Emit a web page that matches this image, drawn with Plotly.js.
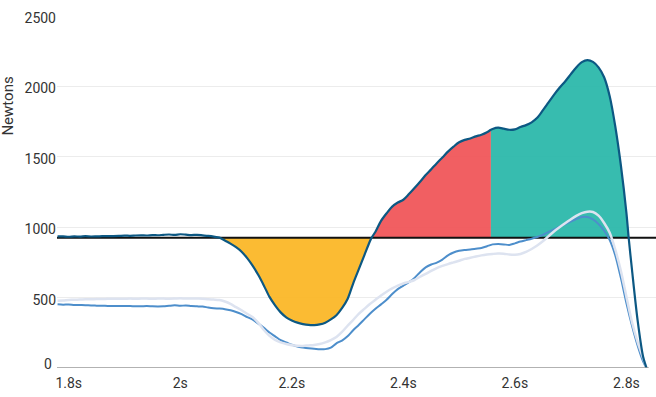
<!DOCTYPE html>
<html>
<head>
<meta charset="utf-8">
<script src="https://cdn.plot.ly/plotly-3.0.1.min.js"></script>
<style>
  html, body { margin: 0; padding: 0; background: #fff; }
  #chart { width: 656px; height: 397px; }
</style>
</head>
<body>
<div id="chart"></div>
<script>
// ---- Data ----
// time grid (s) shared by the two lighter lines
const timeS = [1.78,1.79,1.80,1.81,1.82,1.83,1.84,1.85,1.86,1.87,1.88,1.89,1.90,1.91,1.92,1.93,1.94,1.95,1.96,1.97,1.98,1.99,
  2.00,2.01,2.02,2.03,2.04,2.05,2.06,2.07,2.08,2.09,2.10,2.11,2.12,2.13,2.14,2.15,2.16,2.17,2.18,2.19,
  2.20,2.21,2.22,2.23,2.24,2.25,2.26,2.27,2.28,2.29,2.30,2.31,2.32,2.33,2.34,2.35,2.36,2.37,2.38,2.39,
  2.40,2.41,2.42,2.43,2.44,2.45,2.46,2.47,2.48,2.49,2.50,2.51,2.52,2.53,2.54,2.55,2.56,2.57,2.58,2.59,
  2.60,2.61,2.62,2.63,2.64,2.65,2.66,2.67,2.68,2.69,2.70,2.71,2.72,2.73,2.74,2.75,2.76,2.77,2.78,2.79,
  2.80,2.81,2.82,2.83,2.836];

// medium-blue line (Newtons)
const lineBlue = [452,450,451,448,447,446,444,443,442,441,440,440,441,440,439,439,440,438,437,438,442,445,
  442,444,440,438,436,430,425,422,418,410,398,382,362,343,315,285,252,225,198,182,
  165,152,145,140,137,133,134,145,175,195,225,268,305,345,385,420,452,485,525,560,
  585,610,640,680,715,735,748,770,800,820,832,838,842,847,852,865,878,880,878,874,
  885,898,908,918,930,945,965,985,1003,1022,1040,1058,1073,1072,1055,1022,975,909,800,640,
  460,300,160,45,0];

// pale line (Newtons)
const linePale = [478,480,483,485,486,488,488,490,490,491,492,492,492,493,492,493,493,492,493,493,492,493,
  495,493,494,493,492,488,486,483,472,455,432,410,385,360,320,270,228,200,182,170,
  162,158,157,160,163,170,182,198,220,256,300,341,385,420,455,485,515,542,565,585,
  600,612,625,648,668,690,710,725,738,750,762,775,783,792,800,806,810,813,812,806,
  804,810,824,845,870,900,935,970,1000,1028,1055,1080,1100,1110,1108,1082,1030,960,840,690,
  505,325,185,70,0];

// main force line: its own time points (includes the phase boundaries)
const forceTime = [1.78,1.79,1.80,1.81,1.82,1.83,1.84,1.85,1.86,1.87,1.88,1.89,1.90,1.91,1.92,1.93,1.94,1.95,1.96,1.97,1.98,1.99,
  2.00,2.01,2.02,2.03,2.04,2.05,2.06,2.07,2.071,2.08,2.09,2.10,2.11,2.12,2.13,2.14,2.15,2.16,2.17,2.18,2.19,
  2.20,2.21,2.22,2.23,2.24,2.25,2.26,2.27,2.28,2.29,2.30,2.31,2.32,2.33,2.34,2.343,2.35,2.36,2.37,2.38,2.39,
  2.40,2.41,2.42,2.43,2.44,2.45,2.46,2.47,2.48,2.49,2.50,2.51,2.52,2.53,2.54,2.55,2.557,2.56,2.57,2.58,2.59,
  2.60,2.61,2.62,2.63,2.64,2.65,2.66,2.67,2.68,2.69,2.70,2.71,2.72,2.73,2.74,2.75,2.76,2.77,2.78,2.79,
  2.80,2.804,2.81,2.82,2.83,2.836];
const forceN = [935,935,932,935,933,936,934,935,936,937,937,938,940,939,941,942,941,944,943,946,948,945,
  950,947,944,946,942,938,933,927,925,905,883,858,826,780,725,660,585,505,445,395,360,
  338,322,312,306,305,310,322,345,375,425,490,600,700,800,900,925,968,1045,1099,1146,1175,
  1195,1235,1278,1323,1370,1412,1455,1495,1537,1572,1603,1620,1630,1645,1657,1675,1692,1698,1707,1700,1692,
  1695,1712,1725,1745,1777,1830,1885,1940,1990,2035,2085,2135,2172,2187,2174,2135,2065,1930,1715,1440,
  1100,925,696,340,78,0];

const threshold = 925;          // body-weight line (Newtons)
const phaseBounds = [2.071, 2.343, 2.557, 2.804];   // unweighting | braking | propulsion
const phaseColors = ['rgba(251,183,40,0.95)', 'rgba(240,85,88,0.94)', 'rgba(42,184,170,0.94)'];

const yTicks = [0, 500, 1000, 1500, 2000, 2500];
const yTickText = ['', '500', '1000', '1500', '2000', '2500'];
const xTicks = [1.8, 2.0, 2.2, 2.4, 2.6, 2.8];
const xTickText = ['1.8s', '2s', '2.2s', '2.4s', '2.6s', '2.8s'];

// ---- Build traces ----
const traces = [];
for (let p = 0; p < 3; p++) {
  const t0 = phaseBounds[p], t1 = phaseBounds[p + 1];
  const xs = [], ys = [];
  forceTime.forEach((t, i) => { if (t >= t0 - 1e-9 && t <= t1 + 1e-9) { xs.push(t); ys.push(forceN[i]); } });
  traces.push({ x: [t0, t1], y: [threshold, threshold], mode: 'lines', line: { width: 0, shape: 'spline' },
    hoverinfo: 'skip', showlegend: false });
  traces.push({ x: xs, y: ys, mode: 'lines', line: { width: 0, shape: 'spline', smoothing: 0.8 },
    fill: 'tonexty', fillcolor: phaseColors[p], hoverinfo: 'skip', showlegend: false });
}
// threshold line
traces.push({ x: [forceTime[0] - 0.01, 2.9], y: [threshold, threshold], mode: 'lines',
  line: { color: '#111', width: 2 }, hoverinfo: 'skip', showlegend: false });
traces.push({ x: timeS, y: lineBlue, mode: 'lines', line: { color: '#4d8ecb', width: 2, shape: 'spline', smoothing: 0.8 }, showlegend: false });
traces.push({ x: timeS, y: linePale, mode: 'lines', line: { color: '#dde3f0', width: 2.5, shape: 'spline', smoothing: 0.8 }, showlegend: false });
traces.push({ x: forceTime, y: forceN, mode: 'lines', line: { color: '#0c5883', width: 2.2, shape: 'spline', smoothing: 0.8 }, showlegend: false });

const xRange = [1.779, 2.853];

const layout = {
  width: 656, height: 397,
  margin: { l: 57, r: 0, t: 16, b: 29, pad: 0 },
  paper_bgcolor: '#fff', plot_bgcolor: '#fff',
  font: { family: 'Roboto, sans-serif', size: 14, color: '#333' },
  showlegend: false,
  xaxis: {
    range: xRange, tickvals: xTicks, ticktext: xTickText,
    showgrid: false, zeroline: false, showline: false, ticks: '',
    ticklabelstandoff: 5,
    tickfont: { size: 14, color: '#333' }
  },
  yaxis: {
    range: [0, 2500], tickvals: yTicks, ticktext: yTickText, showgrid: true, gridcolor: '#ececec', gridwidth: 1,
    zeroline: false, showline: false, ticks: '',
    ticklabelshift: 2,
    tickfont: { size: 14, color: '#333' }
  },
  shapes: [
    { type: 'line', xref: 'x', yref: 'y', x0: xRange[0], x1: 2.84, y0: 0, y1: 0,
      line: { color: '#999', width: 1.5 }, layer: 'above' }
  ],
  annotations: [
    { text: 'Newtons', xref: 'paper', yref: 'paper', x: -0.081, y: 0.744, textangle: -90,
      showarrow: false, xanchor: 'center', yanchor: 'middle', font: { size: 15, color: '#333' } },
    { text: '0', xref: 'paper', yref: 'y', x: 0, y: 0, xanchor: 'right', yanchor: 'middle',
      xshift: -3, yshift: 4, showarrow: false, font: { size: 14, color: '#333' } }
  ]
};

Plotly.newPlot('chart', traces, layout, { displayModeBar: false, staticPlot: true });
</script>
</body>
</html>
